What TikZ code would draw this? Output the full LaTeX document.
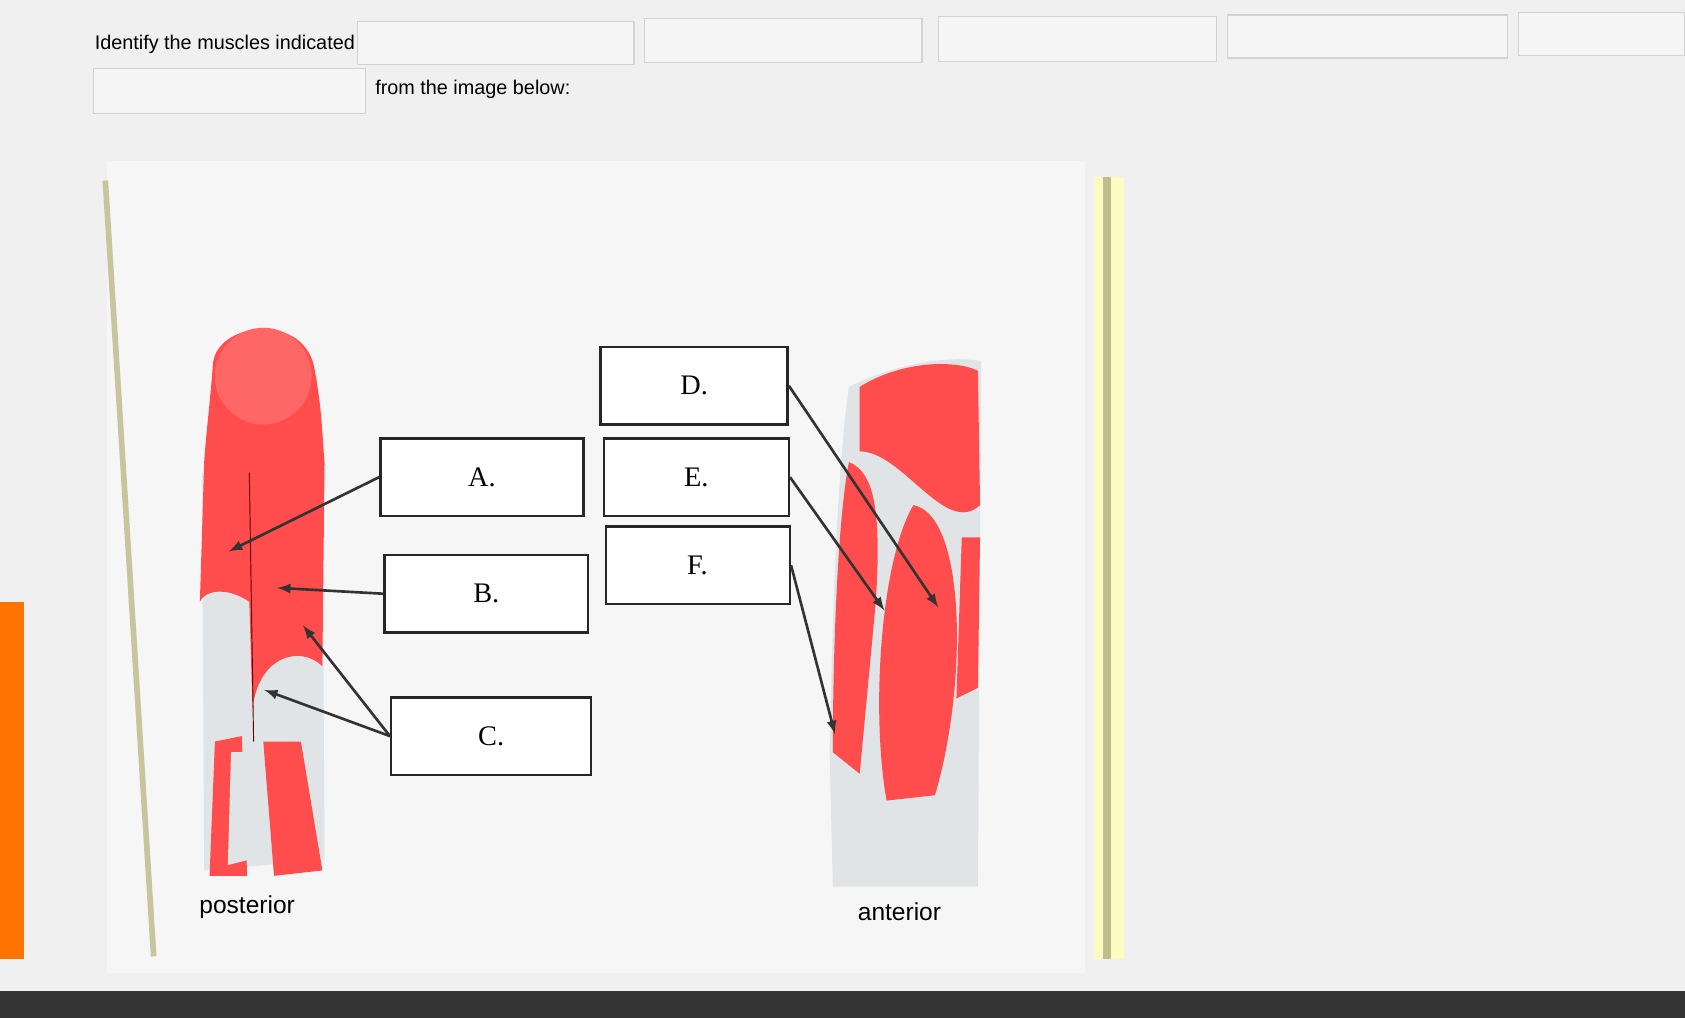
\documentclass[tikz,border=0pt]{standalone}
\usepackage{fontspec}
\setmainfont{Liberation Serif}
\newfontfamily\sans{Liberation Sans}
\begin{document}
\begin{tikzpicture}[x=0.02cm,y=-0.02cm,
  inbox/.style={draw=gray!35,fill=gray!8,line width=0.6pt},
  lbl/.style={draw=black!85,line width=1.3pt,fill=white,minimum width=#1,minimum height=72*0.02cm,font=\fontsize{15}{15}\selectfont},
  arr/.style={-latex,line width=1.4pt,black!80},
  mus/.style={fill=red!70!white,draw=none},
  ten/.style={fill=cyan!10!gray!25,draw=none}]
\useasboundingbox (0,0) rectangle (1568,947);
\fill[gray!12] (0,0) rectangle (1568,947);
\fill[black!80] (0,922) rectangle (1568,947);
\fill[orange!90!red] (0,560) rectangle (22,892);
\fill[gray!7] (100,150) rectangle (1010,905);
% text line
\node[anchor=west,font=\sans\fontsize{10.5}{10.5}\selectfont] (t1) at (82,41) {Identify the muscles indicated};
\draw[inbox] (333,20) rectangle (590,60);
\draw[inbox] (600,17) rectangle (858,58);
\draw[inbox] (873,15) rectangle (1132,57);
\draw[inbox] (1142,14) rectangle (1403,54);
\draw[inbox] (1413,12) rectangle (1568,52);
\draw[inbox] (87,64) rectangle (340,106);
\node[anchor=west,font=\sans\fontsize{10.5}{10.5}\selectfont] (t2) at (343,83) {from the image below:};
% panel lines
\draw[line width=3pt,brown!20!yellow!30!gray!60] (98,168) -- (143,890);
\fill[brown!15!yellow!25!white] (1018,165) rectangle (1046,892);
\fill[brown!30!yellow!35!gray!70] (1026,165) rectangle (1034,892);
% posterior thigh
\fill[ten] (188,440) -- (300,430) -- (302,800) -- (190,810) -- cycle;
\fill[mus] (198,340) .. controls (200,300) and (280,290) .. (292,340) .. controls (300,380) and (300,410) .. (302,430) -- (300,620) .. controls (280,600) and (240,610) .. (235,660) -- (232,560) .. controls (210,545) and (190,550) .. (186,560) -- (190,430) .. controls (192,400) and (196,370) .. (198,340) -- cycle;
\fill[red!60!white] (245,350) ellipse (45 and 45);
\fill[mus] (200,690) -- (225,685) -- (230,815) -- (195,815) -- cycle;
\fill[mus] (245,690) -- (280,690) -- (300,810) -- (255,815) -- cycle;
\fill[ten] (215,700) -- (228,700) -- (232,800) -- (212,805) -- cycle;
\draw[red!40!black,line width=0.5pt] (232,440) -- (236,690);
% anterior thigh
\fill[ten] (790,360) .. controls (830,340) and (880,330) .. (913,336) -- (910,825) -- (775,825) -- (772,700) .. controls (775,550) and (780,430) .. (790,360) -- cycle;
\fill[mus] (800,360) .. controls (840,335) and (890,335) .. (910,345) -- (912,470) .. controls (880,500) and (840,420) .. (800,420) -- cycle;
\fill[mus] (850,470) .. controls (900,480) and (900,640) .. (870,740) -- (825,745) .. controls (810,660) and (820,520) .. (850,470) -- cycle;
\fill[mus] (790,430) .. controls (815,440) and (820,480) .. (815,560) -- (800,720) -- (775,700) .. controls (775,600) and (780,480) .. (790,430) -- cycle;
\fill[mus] (895,500) -- (912,500) -- (910,640) -- (890,650) -- cycle;
% labels
\node[lbl=189*0.02cm] (A) at (448.5,444) {A.};
\node[lbl=189*0.02cm] (B) at (452.5,552.5) {B.};
\node[lbl=186*0.02cm] (C) at (457,685) {C.};
\node[lbl=174*0.02cm] (D) at (646,359) {D.};
\node[lbl=172*0.02cm] (E) at (648,444) {E.};
\node[lbl=171*0.02cm] (F) at (649.5,526) {};
\node[font=\fontsize{15}{15}\selectfont] (Ft) at (649,526) {F.};
\coordinate (pa) at (213,513);
\coordinate (pb) at (258,547);
\coordinate (pc1) at (282,582);
\coordinate (pc2) at (246,642);
\coordinate (pd) at (873,565);
\coordinate (pe) at (823,568);
\coordinate (pf) at (777,683);
\draw[arr] (A.west) -- (pa);
\draw[arr] (B.west) -- (pb);
\draw[arr] (C.west) -- (pc1);
\draw[arr] (C.west) -- (pc2);
\draw[arr] (D.east) -- (pd);
\draw[arr] (E.east) -- (pe);
\draw[arr] (F.east) -- (pf);
\node[font=\sans\fontsize{13}{13}\selectfont] (post) at (230,844) {posterior};
\node[font=\sans\fontsize{13}{13}\selectfont] (ant) at (837,848) {anterior};
\end{tikzpicture}
\end{document}
